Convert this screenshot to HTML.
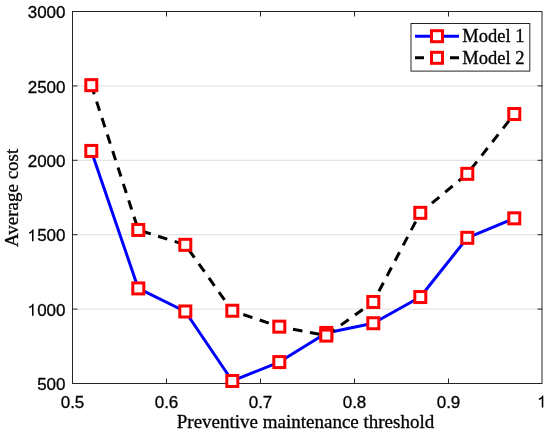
<!DOCTYPE html>
<html><head><meta charset="utf-8"><style>
html,body{margin:0;padding:0;background:#fff;width:550px;height:434px;overflow:hidden;}
svg{display:block;will-change:transform;}
</style></head><body>
<svg width="550" height="434" viewBox="0 0 550 434"><rect width="550" height="434" fill="#fff"/><line x1="72.5" y1="309.10" x2="542" y2="309.10" stroke="#dedede" stroke-width="1"/><line x1="72.5" y1="234.70" x2="542" y2="234.70" stroke="#dedede" stroke-width="1"/><line x1="72.5" y1="160.30" x2="542" y2="160.30" stroke="#dedede" stroke-width="1"/><line x1="72.5" y1="85.90" x2="542" y2="85.90" stroke="#dedede" stroke-width="1"/><path d="M166.50 383.5V378.5M166.50 11.5V16.5M260.50 383.5V378.5M260.50 11.5V16.5M354.50 383.5V378.5M354.50 11.5V16.5M448.50 383.5V378.5M448.50 11.5V16.5M72.5 309.10H77.5M542.5 309.10H537.5M72.5 234.70H77.5M542.5 234.70H537.5M72.5 160.30H77.5M542.5 160.30H537.5M72.5 85.90H77.5M542.5 85.90H537.5" stroke="#262626" stroke-width="1" fill="none"/><rect x="72.5" y="11.5" width="469.5" height="372.0" fill="none" stroke="#262626" stroke-width="1"/><polyline points="91.30,150.93 138.30,288.42 185.30,311.48 232.30,380.97 279.30,362.07 326.30,332.91 373.30,323.24 420.30,297.05 467.30,237.82 514.30,218.33" fill="none" stroke="#0000ff" stroke-width="3" stroke-linejoin="round"/><g fill="#fff" stroke="#ff0000" stroke-width="3"><rect x="85.80" y="145.43" width="11" height="11"/><rect x="132.80" y="282.92" width="11" height="11"/><rect x="179.80" y="305.98" width="11" height="11"/><rect x="226.80" y="375.47" width="11" height="11"/><rect x="273.80" y="356.57" width="11" height="11"/><rect x="320.80" y="327.41" width="11" height="11"/><rect x="367.80" y="317.74" width="11" height="11"/><rect x="414.80" y="291.55" width="11" height="11"/><rect x="461.80" y="232.32" width="11" height="11"/><rect x="508.80" y="212.83" width="11" height="11"/></g><polyline points="91.30,85.16 138.30,229.94 185.30,244.82 232.30,310.74 279.30,326.66 326.30,335.59 373.30,301.96 420.30,212.83 467.30,173.84 514.30,114.02" fill="none" stroke="#000" stroke-width="3" stroke-dasharray="9.6,7.7"/><g fill="#fff" stroke="#ff0000" stroke-width="3"><rect x="85.80" y="79.66" width="11" height="11"/><rect x="132.80" y="224.44" width="11" height="11"/><rect x="179.80" y="239.32" width="11" height="11"/><rect x="226.80" y="305.24" width="11" height="11"/><rect x="273.80" y="321.16" width="11" height="11"/><rect x="320.80" y="330.09" width="11" height="11"/><rect x="367.80" y="296.46" width="11" height="11"/><rect x="414.80" y="207.33" width="11" height="11"/><rect x="461.80" y="168.34" width="11" height="11"/><rect x="508.80" y="108.52" width="11" height="11"/></g><g font-family="Liberation Sans, sans-serif" font-size="17" fill="#000" stroke="#000" stroke-width="0.3"><text x="65.5" y="390.10" text-anchor="end">500</text><text x="65.5" y="315.70" text-anchor="end">000</text><text x="65.5" y="241.30" text-anchor="end">500</text><text x="65.5" y="166.90" text-anchor="end">2000</text><text x="65.5" y="92.50" text-anchor="end">2500</text><text x="65.5" y="18.10" text-anchor="end">3000</text><text x="72.50" y="407.5" text-anchor="middle">0.5</text><text x="166.50" y="407.5" text-anchor="middle">0.6</text><text x="260.50" y="407.5" text-anchor="middle">0.7</text><text x="354.50" y="407.5" text-anchor="middle">0.8</text><text x="448.50" y="407.5" text-anchor="middle">0.9</text></g><path d="M33.54 303.70H32.54C32.04 305.30 30.74 306.30 29.04 306.70V308.00C30.44 307.80 31.44 307.30 31.99 306.60V315.70H33.54ZM33.54 229.30H32.54C32.04 230.90 30.74 231.90 29.04 232.30V233.60C30.44 233.40 31.44 232.90 31.99 232.20V241.30H33.54ZM543.30 395.50H542.30C541.80 397.10 540.50 398.10 538.80 398.50V399.80C540.20 399.60 541.20 399.10 541.75 398.40V407.50H543.30Z" fill="#000"/><g font-family="Liberation Serif, serif" font-size="19" fill="#000" stroke="#000" stroke-width="0.3"><text x="305.5" y="428" text-anchor="middle">Preventive maintenance threshold</text><text transform="translate(18,197.9) rotate(-90)" text-anchor="middle">Average cost</text></g><rect x="411" y="23.5" width="118.79999999999995" height="47.599999999999994" fill="#fff" stroke="#262626" stroke-width="1"/><line x1="415" y1="36.2" x2="459" y2="36.2" stroke="#0000ff" stroke-width="3"/><rect x="431.5" y="30.700000000000003" width="11" height="11" fill="#fff" stroke="#ff0000" stroke-width="3"/><path d="M415 57.8H424M450 57.8H459" stroke="#000" stroke-width="3"/><rect x="431.5" y="52.3" width="11" height="11" fill="#fff" stroke="#ff0000" stroke-width="3"/><g font-family="Liberation Serif, serif" font-size="18.5" fill="#000" stroke="#000" stroke-width="0.3"><text x="462.3" y="42.3">Model 1</text><text x="462.3" y="64.3">Model 2</text></g></svg>
</body></html>
